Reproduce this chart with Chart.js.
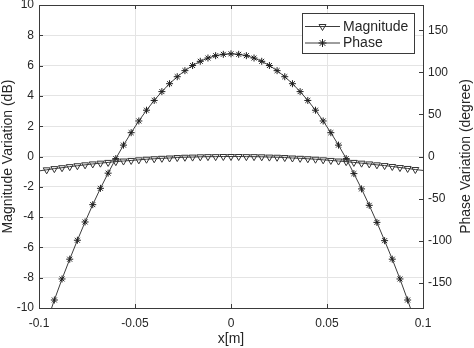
<!DOCTYPE html>
<html>
<head>
<meta charset="utf-8">
<script src="https://cdn.jsdelivr.net/npm/chart.js@4.4.1/dist/chart.umd.min.js"></script>
<style>
  html, body { margin: 0; padding: 0; background: #fff; }
</style>
</head>
<body>
<canvas id="chart" width="474" height="348"></canvas>
<script>
// positions along x [m]
const xValues = [-0.1, -0.096, -0.092, -0.088, -0.084, -0.08, -0.076, -0.072, -0.068, -0.064,
  -0.06, -0.056, -0.052, -0.048, -0.044, -0.04, -0.036, -0.032, -0.028, -0.024,
  -0.02, -0.016, -0.012, -0.008, -0.004, 0, 0.004, 0.008, 0.012, 0.016,
  0.02, 0.024, 0.028, 0.032, 0.036, 0.04, 0.044, 0.048, 0.052, 0.056,
  0.06, 0.064, 0.068, 0.072, 0.076, 0.08, 0.084, 0.088, 0.092, 0.096, 0.1];

// magnitude variation (dB), left axis
const magnitude = [-0.95, -0.88, -0.80, -0.74, -0.67, -0.61, -0.55, -0.49, -0.44, -0.39,
  -0.34, -0.30, -0.26, -0.22, -0.18, -0.15, -0.12, -0.10, -0.07, -0.05,
  -0.04, -0.02, -0.01, -0.01, 0.00, 0.00, 0.00, -0.01, -0.01, -0.02,
  -0.04, -0.05, -0.07, -0.10, -0.12, -0.15, -0.18, -0.22, -0.26, -0.30,
  -0.34, -0.39, -0.44, -0.49, -0.55, -0.60, -0.66, -0.73, -0.79, -0.86, -0.92];

// phase variation (degree), right axis
const phase = [-224, -197, -170.5, -145.5, -122, -99.5, -77.8, -57.2, -37.8, -19.8,
  -2.5, 13.5, 28.3, 42.2, 55, 66.6, 77.1, 86.5, 94.8, 102,
  108.1, 113.1, 117, 119.8, 121.4, 122, 121.4, 119.8, 117, 113.1,
  108.1, 102, 94.8, 86.5, 77.1, 66.6, 55, 42.2, 28.3, 13.5,
  -2.5, -20.3, -38.5, -58, -78.3, -100, -122, -145.5, -170.5, -197, -224];

const seriesNames = ['Magnitude', 'Phase'];
const xTicks = [-0.1, -0.05, 0, 0.05, 0.1];
const magTicks = [-10, -8, -6, -4, -2, 0, 2, 4, 6, 8, 10];
const phaseTicks = [-150, -100, -50, 0, 50, 100, 150];
const rightTitle = 'Phase Variation (degree)';

const FONT = 'Liberation Sans, Arial, Helvetica, sans-serif';
const TEXT = '#262626';
const AXIS = '#3a3a3a';
const GRID = '#e4e4e4';

Chart.defaults.font.family = FONT;
Chart.defaults.color = TEXT;

const setTicks = list => scale => { scale.ticks = list.map(v => ({ value: v })); };

const lastIdx = xValues.length - 1;

// box, inward tick marks, right title and legend, drawn like the original figure
const framePlugin = {
  id: 'frame',
  afterDraw(chart) {
    const { ctx, chartArea: a, scales } = chart;
    ctx.save();
    ctx.strokeStyle = AXIS;
    ctx.lineWidth = 1;
    ctx.beginPath();
    xTicks.forEach(v => {
      const px = Math.round(scales.x.getPixelForValue(v)) + 0.5;
      ctx.moveTo(px, a.bottom); ctx.lineTo(px, a.bottom - 4);
      ctx.moveTo(px, a.top); ctx.lineTo(px, a.top + 4);
    });
    magTicks.forEach(v => {
      const py = Math.round(scales.y.getPixelForValue(v)) + 0.5;
      ctx.moveTo(a.left, py); ctx.lineTo(a.left + 4, py);
    });
    phaseTicks.forEach(v => {
      const py = Math.round(scales.y1.getPixelForValue(v)) + 0.5;
      ctx.moveTo(a.right, py); ctx.lineTo(a.right - 4, py);
    });
    ctx.stroke();
    ctx.strokeRect(Math.round(a.left) + 0.5, Math.round(a.top) + 0.5,
      Math.round(a.right - a.left), Math.round(a.bottom - a.top));

    // right axis title reads bottom-to-top, like the left one
    ctx.save();
    ctx.translate(chart.width - 7.5, (a.top + a.bottom) / 2);
    ctx.rotate(-Math.PI / 2);
    ctx.fillStyle = TEXT;
    ctx.font = '14px ' + FONT;
    ctx.textAlign = 'center';
    ctx.textBaseline = 'middle';
    ctx.fillText(rightTitle, 0, 0);
    ctx.restore();

    // legend
    const lx = 302, ly = 13, lw = 112, lh = 40;
    ctx.fillStyle = '#fff';
    ctx.fillRect(lx, ly, lw, lh);
    ctx.strokeStyle = AXIS;
    ctx.strokeRect(lx + 0.5, ly + 0.5, lw, lh);
    chart.data.datasets.forEach((ds, i) => {
      const cy = ly + 13.5 + i * 16.5;
      ctx.strokeStyle = ds.borderColor;
      ctx.lineWidth = 1;
      ctx.beginPath();
      ctx.moveTo(305, cy); ctx.lineTo(340, cy);
      ctx.stroke();
      ctx.strokeStyle = ds.pointBorderColor;
      ctx.fillStyle = 'rgba(0,0,0,0)';
      Chart.helpers.drawPoint(ctx, {
        pointStyle: ds.pointStyle, rotation: ds.pointRotation,
        radius: 4, borderWidth: 1
      }, 322.5, cy);
      ctx.fillStyle = TEXT;
      ctx.font = '14px ' + FONT;
      ctx.textBaseline = 'middle';
      ctx.textAlign = 'left';
      ctx.fillText(ds.label, 343, cy + 0.5);
    });
    ctx.restore();
  }
};

new Chart(document.getElementById('chart').getContext('2d'), {
  type: 'line',
  data: {
    datasets: [{
      label: seriesNames[0],
      data: xValues.map((x, i) => ({ x, y: magnitude[i] })),
      yAxisID: 'y',
      borderColor: '#3c3c3c',
      borderWidth: 1,
      pointStyle: 'triangle',
      pointRotation: 180,
      pointRadius: c => (c.dataIndex === 0 || c.dataIndex === lastIdx) ? 0 : 4,
      pointBorderColor: '#333',
      pointBackgroundColor: 'rgba(0,0,0,0)',
      pointBorderWidth: 1
    }, {
      label: seriesNames[1],
      data: xValues.map((x, i) => ({ x, y: phase[i] })),
      yAxisID: 'y1',
      borderColor: '#3c3c3c',
      borderWidth: 1,
      pointStyle: 'star',
      pointRadius: 3.5,
      pointBorderColor: '#1e1e1e',
      pointBackgroundColor: 'rgba(0,0,0,0)',
      pointBorderWidth: 1
    }]
  },
  options: {
    responsive: false,
    animation: false,
    devicePixelRatio: 1,
    layout: { padding: { top: 4, left: 0, right: 0, bottom: 0 } },
    plugins: { legend: { display: false }, tooltip: { enabled: false } },
    scales: {
      x: {
        type: 'linear', min: -0.1, max: 0.1,
        afterBuildTicks: setTicks(xTicks),
        afterFit: s => { s.height = 40; s.paddingLeft = 0; s.paddingRight = 0; },
        grid: { color: GRID, drawTicks: false },
        border: { display: false },
        ticks: { padding: 8, maxRotation: 0, autoSkip: false, font: { size: 12 }, callback: v => String(v) },
        title: { display: true, text: 'x[m]', font: { size: 14 }, padding: { top: 0, bottom: 0.5 } }
      },
      y: {
        position: 'left', min: -10, max: 10,
        afterBuildTicks: setTicks(magTicks),
        afterFit: s => { s.width = 39; s.paddingTop = 0; s.paddingBottom = 0; },
        grid: { color: GRID, drawTicks: false },
        border: { display: false },
        ticks: { padding: 5, font: { size: 12 } },
        title: { display: true, text: 'Magnitude Variation (dB)', font: { size: 14 }, padding: { top: 0, bottom: 0 } }
      },
      y1: {
        position: 'right', min: -180, max: 180,
        afterBuildTicks: setTicks(phaseTicks),
        afterFit: s => { s.width = 51; s.paddingTop = 0; s.paddingBottom = 0; },
        grid: { display: false, drawTicks: false },
        border: { display: false },
        ticks: { padding: 5, font: { size: 12 } },
        title: { display: false }
      }
    }
  },
  plugins: [framePlugin]
});
</script>
</body>
</html>
